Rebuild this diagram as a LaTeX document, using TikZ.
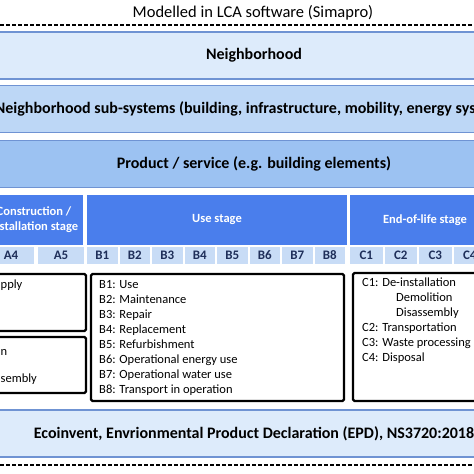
\documentclass[tikz,border=0pt]{standalone}
\usepackage{fontspec}
\setmainfont{Carlito}
\usetikzlibrary{positioning}
\definecolor{bandA}{HTML}{DDEBFB}
\definecolor{bandB}{HTML}{BDD7F6}
\definecolor{bandC}{HTML}{9CC2F2}
\definecolor{bandline}{HTML}{6F93D3}
\definecolor{stagefill}{HTML}{4A7EEC}
\definecolor{codefill}{HTML}{C8DCF6}
\definecolor{codetext}{HTML}{1F2F5A}
\tikzset{
  band/.style={draw=bandline, line width=1.2pt, minimum width=560pt, minimum height=47pt,
    font=\bfseries\fontsize{16}{19}\selectfont, inner sep=0pt},
  stagehead/.style={fill=stagefill, text=white, font=\bfseries\fontsize{12.5}{15}\selectfont,
    align=center, minimum height=50pt, inner sep=0pt},
  codecell/.style={fill=codefill, text=codetext, font=\bfseries\fontsize{13}{14}\selectfont,
    minimum height=17pt, inner sep=0pt},
  listbox/.style={draw, line width=2.2pt, rounded corners=1.5pt},
  listtext/.style={align=left, anchor=north west, font=\fontsize{12.5}{15}\selectfont, inner sep=0pt},
  limit/.style={line width=1.4pt, dash pattern=on 4pt off 2pt}
}
\begin{document}
\begin{tikzpicture}[x=1pt, y=-1pt]
\useasboundingbox (0,0) rectangle (474,474);
\clip (0,0) rectangle (474,474);
\fill[white] (0,0) rectangle (474,474);
% system boundary
\node[font=\fontsize{16.5}{18}\selectfont] (soft) at (253,13) {Modelled in LCA software (Simapro)};
\coordinate (topL) at (0,25);
\coordinate (topR) at (474,25);
\draw[limit] (topL) -- (topR);
% levels
\node[band, fill=bandA] (nbh) at (254,55.5) {Neighborhood};
\node[band, fill=bandB] (sub) at (254,109) {Neighborhood sub-systems (building, infrastructure, mobility, energy systems)};
\node[band, fill=bandC] (prod) at (254,164) {Product / service (e.g. building elements)};
% life cycle stages
\node[stagehead, minimum width=98pt] (constr) at (34,220) {Construction /\\installation stage};
\node[stagehead, minimum width=260pt] (use) at (217,220) {Use stage};
\node[stagehead, minimum width=150pt] (eol) at (425,220) {End-of-life stage};
\node[codecell, minimum width=46pt] (A4) at (11,255.5) {A4};
\node[codecell, minimum width=46pt] (A5) at (61,255.5) {A5};
\foreach \i in {1,...,8}
  \node[codecell, minimum width=30.5pt] (B\i) at ({87+32.5*(\i-1)+15.25},255.5) {B\i};
\foreach \i in {1,...,4}
  \node[codecell, minimum width=32.5pt] (C\i) at ({350+34.5*(\i-1)+16.25},255.5) {C\i};
% modules
\draw[listbox] (-20,274) rectangle (86,331);
\draw[listbox] (-20,337) rectangle (86,393);
\draw[listbox] (91,274) rectangle (344,401);
\draw[listbox] (353,273) rectangle (520,401);
\node[listtext, anchor=base west] (aone) at (0.5,288) {pply};
\node[listtext, anchor=base west] (atwo) at (0.5,355) {n};
\node[listtext, anchor=base west] (athree) at (0.5,382) {sembly};
\node[listtext] (blist) at (99,280) {B1: Use\\B2: Maintenance\\B3: Repair\\B4: Replacement\\B5: Refurbishment\\B6: Operational energy use\\B7: Operational water use\\B8: Transport in operation};
\node[listtext] (clist) at (362,278) {C1: De-installation\\\hspace*{34pt}Demolition\\\hspace*{34pt}Disassembly\\C2: Transportation\\C3: Waste processing\\C4: Disposal};
% data sources
\node[band, fill=bandA] (data) at (254,433.5) {Ecoinvent, Envrionmental Product Declaration (EPD), NS3720:2018};
\coordinate (botL) at (0,465);
\coordinate (botR) at (474,465);
\draw[limit] (botL) -- (botR);
\end{tikzpicture}
\end{document}
